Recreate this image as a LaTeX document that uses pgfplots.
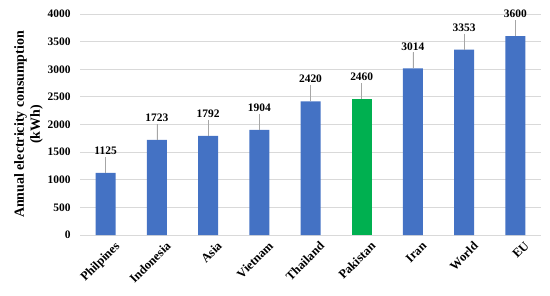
\documentclass[border=0pt]{standalone}
\usepackage{pgfplots}
\pgfplotsset{compat=1.18}
\usepackage{fontspec}
\setmainfont{Liberation Serif}
\definecolor{barblue}{RGB}{68,114,196}
\definecolor{bargreen}{RGB}{0,176,80}
\definecolor{gridc}{RGB}{217,217,217}
\pgfplotsset{leader/.style={error bars/.cd, y dir=plus, y fixed=290,
  error mark=none, error bar style={gray!70, line width=0.6pt}}}
\begin{document}
\begin{tikzpicture}
\begin{axis}[scale only axis, width=461bp, height=221bp,
  ybar, bar width=20bp, bar shift=0pt,
  xmin=-0.5, xmax=8.5, ymin=0, ymax=4000,
  ytick={0,500,...,4000},
  xtick={0,...,8},
  xticklabels={Philpines,Indonesia,Asia,Vietnam,Thailand,Pakistan,Iran,World,EU},
  x tick label style={rotate=45, anchor=north east, font=\bfseries\fontsize{12.5}{14}\selectfont, inner sep=1pt, yshift=-9bp, xshift=3bp},
  y tick label style={font=\bfseries\fontsize{11.5}{14}\selectfont, xshift=-6bp},
  /pgf/number format/assume math mode=true,
  /pgf/number format/set thousands separator={},
  ymajorgrids, grid style={gridc, line width=0.8pt},
  axis line style={draw=none}, major tick length=0pt,
  ylabel={Annual electricity consumption\\(kWh)},
  ylabel style={align=center, font=\bfseries\fontsize{14}{16}\selectfont, yshift=-2bp},
  nodes near coords,
  every node near coord/.append style={font=\bfseries\fontsize{11.5}{14}\selectfont, yshift=17bp, inner sep=1pt, black},
  ]
\addplot[fill=barblue, draw=none, leader] coordinates
  {(0,1125) (1,1723) (2,1792) (3,1904) (4,2420) (6,3014) (7,3353) (8,3600)};
\addplot[fill=bargreen, draw=none, leader] coordinates {(5,2460)};
\end{axis}
\pgfresetboundingbox
\path ([shift={(-80bp,-60bp)}]current axis.south west) rectangle ([shift={(9bp,14bp)}]current axis.north east);
\end{tikzpicture}
\end{document}
